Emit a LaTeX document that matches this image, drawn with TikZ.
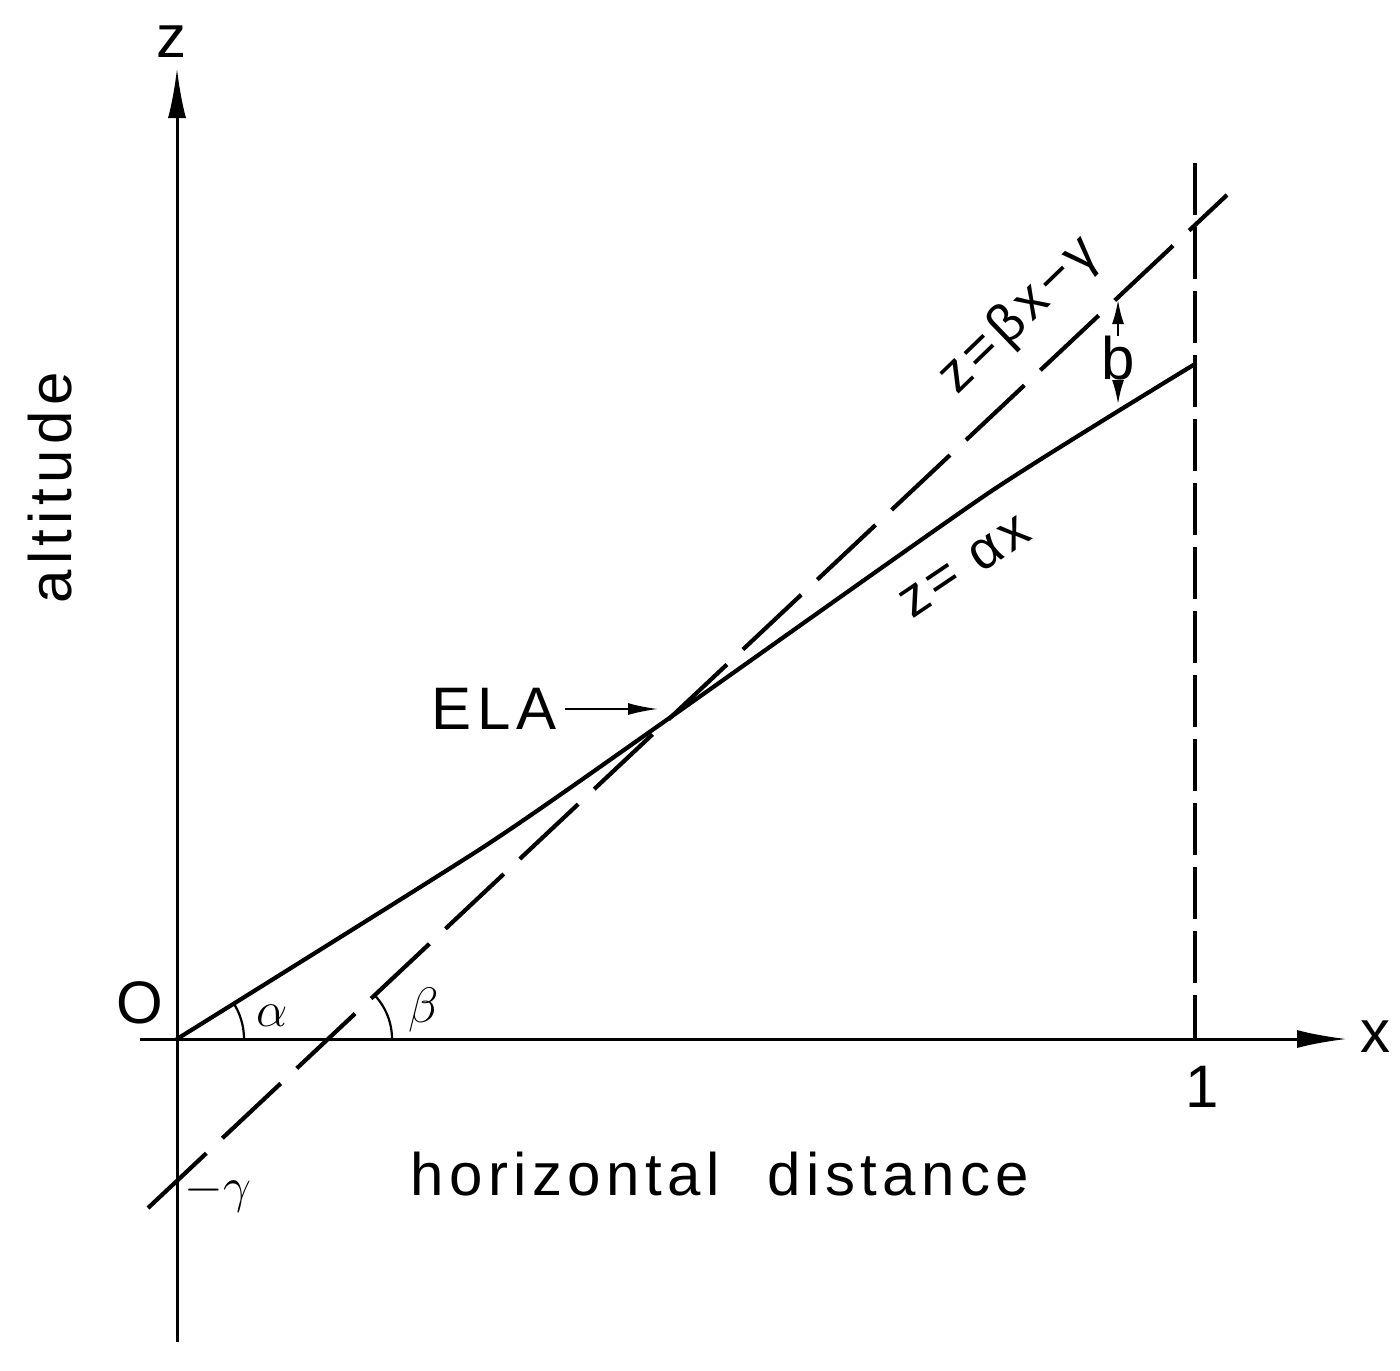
\documentclass[tikz,border=0pt]{standalone}
\usepackage{fontspec}
\setmainfont{Liberation Sans}[LetterSpace=9]
\usetikzlibrary{arrows.meta}
\begin{document}
\begin{tikzpicture}[x=0.5pt,y=-0.5pt,
  axis/.style={line width=1.5pt,-{Latex[length=25pt,width=9pt]}},
  curve/.style={line width=2.1pt,line join=round,line cap=round},
  dashline/.style={line width=2.1pt,dash pattern=on 40pt off 11pt},
  vdash/.style={line width=1.6pt,dash pattern=on 26pt off 6pt},
  lab/.style={inner sep=0pt,font=\fontsize{30}{36}\selectfont},
  eq/.style={inner sep=0pt,font=\fontsize{27}{32}\selectfont},
  greek/.style={inner sep=0pt,font=\fontsize{36}{42}\selectfont},
  anglearc/.style={line width=1.1pt},
  elaarrow/.style={line width=1.1pt,-{Latex[length=15pt,width=6pt]}},
  barrow/.style={line width=1pt,-{Latex[length=12pt,width=6pt]}}]
\useasboundingbox (0,0) rectangle (1400,1370);
% axes
\coordinate (O) at (177,1039);
\coordinate (zb) at (177,1342);
\coordinate (zt) at (177,68);
\coordinate (xl) at (140,1039);
\coordinate (xr) at (1347,1039);
\draw[axis] (zb) -- (zt);
\draw[axis] (xl) -- (xr);
% vertical dashed at x=1
\coordinate (v1) at (1195,163);
\coordinate (v2) at (1195,1039);
\draw[vdash] (v1) -- (v2);
% dashed line z = beta x - gamma
\coordinate (d1) at (148,1208);
\coordinate (d2) at (1227,195);
\draw[dashline] (d1) -- (d2);
% solid curve z = alpha x
\coordinate (ELA) at (668,719);
\draw[curve] plot[smooth,tension=0.35] coordinates {(177,1039) (485,846) (ELA) (990,492) (1195,364)};
% angle arcs
\draw[anglearc] (244,1039) arc[start angle=0,end angle=-33,radius=67];
\draw[anglearc] (392,1039) arc[start angle=0,end angle=-43.2,radius=64];
% labels
\node[lab] (zlab) at (171,42) {z};
\node[lab] (xlab) at (1375,1037) {x};
\node[lab] (one) at (1202,1087) {1};
\node[lab] (Olab) at (140,1003) {O};
\node[lab,rotate=90] (alt) at (50,488) {altitude};
\node[lab,anchor=base] (hd) at (720,1195) {horizontal\hspace{0.8em}distance};
\node[lab] (ela) at (494,709) {ELA};
\coordinate (elatip) at (658,709);
\draw[elaarrow] (ela.east) ++(8,0) -- (elatip);
\node[eq,rotate=34] (eqa) at (965,567) {z= αx};
\node[eq,rotate=44] (eqb) at (1020,316) {z=βx−γ};
\node[lab] (b) at (1118,358) {b};
\coordinate (btop) at (1118,300);
\coordinate (bbot) at (1118,404);
\draw[barrow] (b.north) -- (btop);
\draw[barrow] (b.south) -- (bbot);
\node[greek] (al) at (272,1016) {$\alpha$};
\node[greek] (be) at (424,1010) {$\beta$};
\node[greek,anchor=base west] (ga) at (184,1202) {$-\gamma$};
\end{tikzpicture}
\end{document}
